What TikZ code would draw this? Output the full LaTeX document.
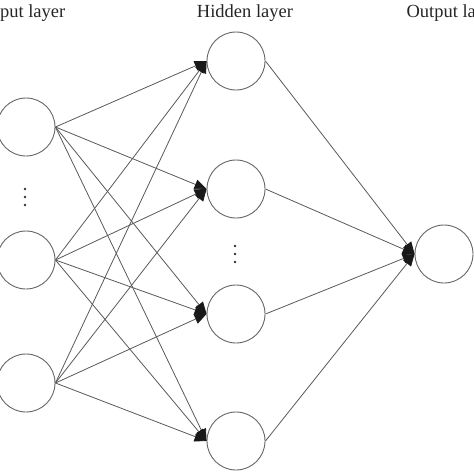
\documentclass[tikz,border=0pt]{standalone}
\usepackage{fontspec}
\setmainfont{Liberation Serif}
\usepackage{tikz}
\usetikzlibrary{
  arrows.meta,
  positioning,
}
\tikzstyle{neuron} = [
  circle,
  draw=black!60,
  line width=0.9pt,
  minimum size=58pt,
  inner sep=0pt,
]
\tikzstyle{arrow} = [
  -{Triangle[length=12pt,width=10pt,color=black!90]},
  line width=0.8pt,
  draw=black!65,
]
\tikzstyle{layer} = [
  anchor=base,
  font=\fontsize{18.5}{22}\selectfont,
  text=black!85,
]

\begin{document}
\begin{tikzpicture}[x=1pt, y=-1pt]

        \useasboundingbox (0,0) rectangle (474,474);

        \node [layer] (inlabel) at (25,17) {Input layer};
        \node [layer] (hidlabel) at (245,17) {Hidden layer};
        \node [layer] (outlabel) at (453,17) {Output layer};

        \node [neuron] (in1) at (26,127) {};
        \node [neuron] (in2) at (26,260) {};
        \node [neuron] (in3) at (26,383) {};

        \node [neuron] (hid1) at (236,61) {};
        \node [neuron] (hid2) at (236,189) {};
        \node [neuron] (hid3) at (236,314) {};
        \node [neuron] (hid4) at (236,441) {};

        \node [neuron] (out) at (444,254) {};

        \foreach \y in {189,197,205} {
          \fill [black!80] (25,\y) circle (1.4pt);
        }

        \foreach \y in {246,254,262} {
          \fill [black!80] (235,\y) circle (1.4pt);
        }

        \foreach \i in {1,2,3} {
          \foreach \j in {1,...,4} {
            \draw [arrow] (in\i.east) -- (hid\j.west);
          }
        }

        \foreach \j in {1,...,4} {
          \draw [arrow] (hid\j.east) -- (out.west);
        }
      \end{tikzpicture}
\end{document}
